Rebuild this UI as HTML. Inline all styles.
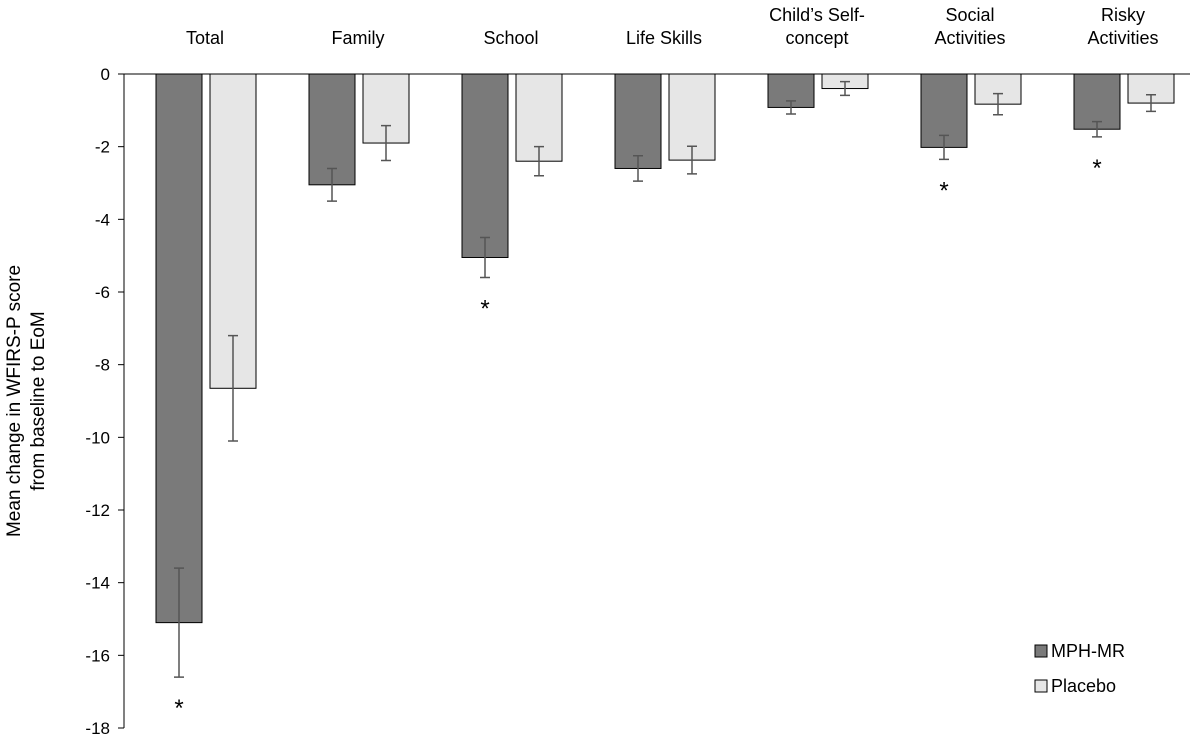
<!DOCTYPE html>
<html><head><meta charset="utf-8"><style>
body{margin:0;background:#fff;}
svg{display:block;font-family:"Liberation Sans",Arial,sans-serif;}
</style></head><body>
<svg id="chart" width="1200" height="738"></svg>
<script>
const categories=["Total","Family","School","Life Skills","Child\u2019s Self-|concept","Social|Activities","Risky|Activities"];
const mphValues=[-15.1,-3.05,-5.05,-2.6,-0.92,-2.02,-1.52];
const mphErr=[1.5,0.45,0.55,0.35,0.18,0.33,0.21];
const placeboValues=[-8.65,-1.9,-2.4,-2.37,-0.4,-0.83,-0.8];
const placeboErr=[1.45,0.48,0.4,0.38,0.19,0.29,0.23];
const significant=[true,false,true,false,false,true,true];
const yTicks=[0,-2,-4,-6,-8,-10,-12,-14,-16,-18];

const NS="http://www.w3.org/2000/svg";
const svg=document.getElementById('chart');
const x0=128,gw=153,y0=74,yPer=(728-74)/18;
const yS=v=>y0-v*yPer;
const gx=i=>x0+gw*i;
function mk(t,a,p){const e=document.createElementNS(NS,t);for(const k in a)e.setAttribute(k,a[k]);(p||svg).appendChild(e);return e;}

const ax=mk('line',{x1:124,y1:74,x2:124,y2:728,stroke:'#000','stroke-width':1});


yTicks.forEach(t=>{
  const y=yS(t);
  const tk=mk('line',{x1:118,y1:y,x2:124,y2:y,stroke:'#000'});
  
  
  const lb=mk('text',{x:110,y:y+6,'text-anchor':'end','font-size':17,fill:'#000'});
  lb.textContent=t;
  
  
});
const xa=mk('line',{x1:124,y1:y0,x2:1190,y2:y0,stroke:'#000'});



const yt=mk('text',{transform:'translate(26,401) rotate(-90)','text-anchor':'middle','font-size':19,fill:'#000'});


const t1=mk('tspan',{x:0,y:-6},yt);t1.textContent='Mean change in WFIRS-P score';
const t2=mk('tspan',{x:0,y:18},yt);t2.textContent='from baseline to EoM';

function bar(x,v,e,fill,name){
  const y=yS(0),yv=yS(v);
  const r=mk('rect',{x:x,y:y,width:46,height:yv-y,fill:fill,stroke:'#000','stroke-width':1});
  
  
  const cx=x+23,a=yS(v+e),b=yS(v-e);
  const g=mk('path',{d:`M${cx},${a}V${b}M${cx-5},${a}H${cx+5}M${cx-5},${b}H${cx+5}`,stroke:'#555','stroke-width':1.5,fill:'none'});
  
  
}
categories.forEach((c,i)=>{
  const cx=gx(i)+77;
  const lines=c.split('|');
  lines.forEach((l,j)=>{
    const t=mk('text',{x:cx,y:(lines.length===1?44:21+j*23),'text-anchor':'middle','font-size':18,fill:'#000'});
    t.textContent=l;
    
    
  });
  bar(gx(i)+28,mphValues[i],mphErr[i],'#7a7a7a','bar-mph-mr');
  bar(gx(i)+82,placeboValues[i],placeboErr[i],'#e6e6e6','bar-placebo');
  if(significant[i]){
    const s=mk('text',{x:gx(i)+51,y:yS(mphValues[i]-mphErr[i])+39,'text-anchor':'middle','font-size':24,fill:'#000'});
    s.textContent='*';
    
    
  }
});
[['MPH-MR','#7a7a7a',651],['Placebo','#e6e6e6',686]].forEach(([n,f,y])=>{
  const r=mk('rect',{x:1035,y:y-6,width:12,height:12,fill:f,stroke:'#000'});
  
  
  const t=mk('text',{x:1051,y:y+6,'font-size':18,fill:'#000'});
  t.textContent=n;
  
  
});
</script>
</body></html>
